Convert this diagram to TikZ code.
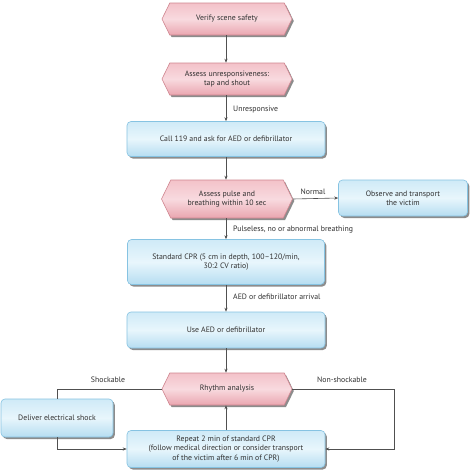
\documentclass[tikz,border=0pt]{standalone}
\usepackage{fontspec}
\setmainfont{PT Sans}
\usetikzlibrary{shapes.symbols,shadows,arrows.meta}
\definecolor{txt}{HTML}{303030}
\definecolor{bedge}{HTML}{86C3E2}
\definecolor{btop}{HTML}{CFEAF7}
\definecolor{bmid}{HTML}{E8F6FC}
\definecolor{bbot}{HTML}{B6DDF1}
\definecolor{pedge}{HTML}{D08690}
\definecolor{ptop}{HTML}{F3C2C9}
\definecolor{pmid}{HTML}{F8DADF}
\definecolor{pbot}{HTML}{EAA6B0}
\definecolor{lne}{HTML}{505050}
\begin{document}
\begin{tikzpicture}[x=1pt,y=1pt,
  font=\fontsize{7.8}{9.4}\selectfont, text=txt,
  shd/.style={drop shadow={shadow xshift=1.8pt,shadow yshift=-2pt,fill=black!60,opacity=0.75}},
  bluebox/.style={rectangle,rounded corners=4pt,draw=bedge,line width=0.6pt,
    top color=btop,bottom color=bbot,middle color=bmid,shd,align=center,inner sep=2pt},
  pinkhex/.style={signal,signal to=west and east,signal pointer angle=128,draw=pedge,line width=0.6pt,
    top color=ptop,bottom color=pbot,middle color=pmid,shd,align=center,inner sep=2pt},
  conn/.style={draw=lne,line width=0.6pt},
  arr/.style={conn,-{Stealth[length=4pt,width=3.2pt]}},
  lbl/.style={font=\fontsize{7.8}{9.4}\selectfont,text=txt,inner sep=0pt}]
\useasboundingbox (0,0) rectangle (474,-474);
\fill[white] (0,0) rectangle (474,-474);

\node[pinkhex,minimum width=130pt,minimum height=32pt] (v1) at (227,-19) {Verify scene safety};
\node[pinkhex,minimum width=130pt,minimum height=32pt] (v2) at (227,-79) {Assess unresponsiveness:\\tap and shout};
\node[bluebox,minimum width=198pt,minimum height=35pt] (c1) at (226,-139) {Call 119 and ask for AED or defibrillator};
\node[pinkhex,minimum width=131pt,minimum height=38pt] (v3) at (227,-199) {Assess pulse and\\breathing within 10 sec};
\node[bluebox,minimum width=129pt,minimum height=36pt] (o1) at (403,-198) {Observe and transport\\the victim};
\node[bluebox,minimum width=197pt,minimum height=45pt] (c2) at (226,-262) {Standard CPR (5 cm in depth, 100–120/min,\\30:2 CV ratio)};
\node[bluebox,minimum width=198pt,minimum height=36pt] (c3) at (226,-330) {Use AED or defibrillator};
\node[pinkhex,minimum width=130pt,minimum height=32pt] (v4) at (227,-389) {Rhythm analysis};
\node[bluebox,minimum width=112pt,minimum height=38pt] (d1) at (57,-418) {Deliver electrical shock};
\node[bluebox,minimum width=198pt,minimum height=37pt] (c4) at (226,-449) {Repeat 2 min of standard CPR\\(follow medical direction or consider transport\\of the victim after 6 min of CPR)};

\coordinate (r1) at (394,-389);

\draw[arr] (v1.south -| 226,0) -- (v2.north -| 226,0);
\draw[arr] (v2.south -| 226,0) -- (c1.north);
\draw[arr] (c1.south) -- (v3.north -| 226,0);
\draw[arr] (v3.east) -- (o1.west);
\draw[arr] (v3.south -| 226,0) -- (c2.north);
\draw[arr] (c2.south) -- (c3.north);
\draw[arr] (c3.south) -- (v4.north -| 226,0);
\draw[arr] (c4.north) -- (v4.south -| 226,0);
\draw[conn] (v4.west) -| (d1.north);
\draw[arr] (d1.south) |- (c4.west);
\draw[conn] (v4.east) -- (r1);
\draw[arr] (r1) |- (c4.east);

\node[lbl,anchor=west] (l1) at (233,-110) {Unresponsive};
\node[lbl] (l2) at (313,-192) {Normal};
\node[lbl,anchor=west] (l3) at (233,-230) {Pulseless, no or abnormal breathing};
\node[lbl,anchor=west] (l4) at (233,-297) {AED or defibrillator arrival};
\node[lbl] (l5) at (108,-380) {Shockable};
\node[lbl] (l6) at (342,-380) {Non-shockable};
\end{tikzpicture}
\end{document}
